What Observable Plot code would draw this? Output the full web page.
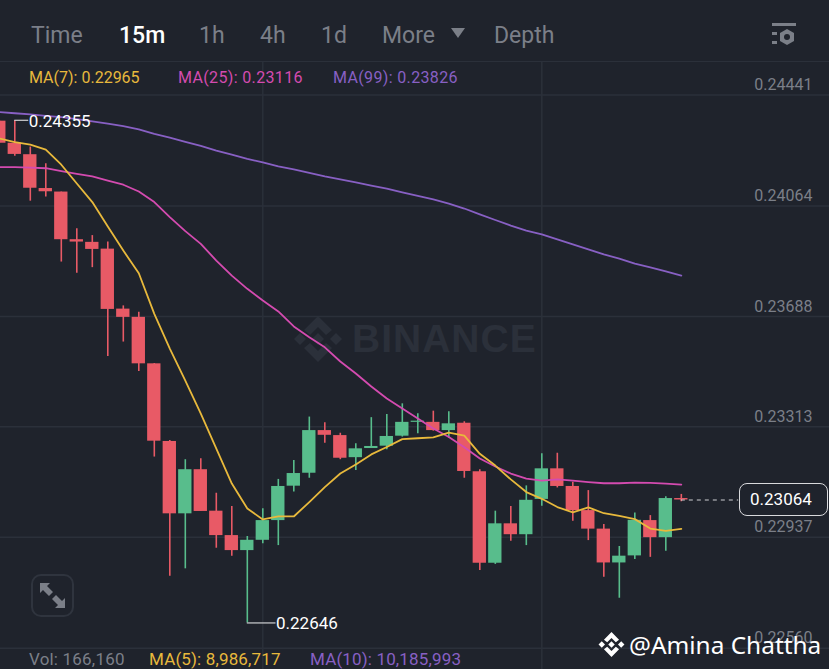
<!DOCTYPE html>
<html><head><meta charset="utf-8">
<script src="https://cdn.jsdelivr.net/npm/d3@7"></script>
<script src="https://cdn.jsdelivr.net/npm/@observablehq/plot@0.6"></script>
<style>
html,body{margin:0;padding:0;background:#1f232c;overflow:hidden}
#page{position:relative;width:829px;height:669px;overflow:hidden;font-family:Roboto,sans-serif;background:#1f232c}
#head{position:absolute;left:0;top:0;width:829px;height:61px;border-bottom:1px solid #2b303a}
#head span{position:absolute;top:21px;font-size:23px;line-height:30px;color:#7b7f88}
#chart{position:absolute;left:0;top:62px;z-index:2}
.row{position:absolute;font-size:16px;line-height:20px;white-space:nowrap;z-index:3}
#wm{position:absolute;left:352px;top:316px;font-size:39px;font-weight:700;line-height:46px;color:#2b303a;letter-spacing:1px;z-index:1;font-family:"Liberation Sans",sans-serif}
#last{position:absolute;left:739px;top:483px;width:77px;padding-left:10px;height:31px;border:1px solid #d8d9dc;border-radius:8px;background:#1f232c;color:#fff;font-size:17px;line-height:31px;z-index:3}
#exp{position:absolute;left:31px;top:574px;width:39px;height:39px;border:2px solid #2f343e;border-radius:10px;z-index:3}
#credit{position:absolute;left:629px;top:629px;font-size:24.4px;line-height:32px;color:#fff;z-index:4;font-family:"Noto Sans",sans-serif;white-space:nowrap}
svg.ic{position:absolute}
</style></head><body>
<div id="page">
<div id="head">
<span style="left:31px">Time</span>
<span style="left:119px;color:#fff;font-weight:500">15m</span>
<span style="left:199px">1h</span>
<span style="left:260px">4h</span>
<span style="left:321px">1d</span>
<span style="left:382px">More</span>
<svg class="ic" style="left:451px;top:28px" width="14" height="11"><path d="M0 0H14L7 10Z" fill="#7b7f88"/></svg>
<span style="left:494px">Depth</span>
<svg class="ic" style="left:771px;top:22px" width="26" height="26"><g fill="#7b7f88"><rect x="1" y="1" width="24" height="3"/><rect x="1" y="10" width="5" height="3"/><rect x="1" y="19" width="5" height="3"/><path d="M16 7l7 4v8l-7 4-7-4v-8z"/></g><circle cx="16" cy="15" r="3" fill="#1f232c"/></svg>
</div>
<svg class="ic" style="left:293px;top:315px;z-index:1" width="50" height="48" viewBox="0 0 50 48"><g fill="#2b303a"><path d="M25 1l14 14-6 5-8-8-8 8-6-5z"/><path d="M25 47l14-14-6-5-8 8-8-8-6 5z"/><path d="M25 18l6 6-6 6-6-6z"/><path d="M7 18l6 6-6 6-6-6z"/><path d="M43 18l6 6-6 6-6-6z"/></g></svg>
<div id="wm">BINANCE</div>
<div class="row" style="left:29px;top:68px;color:#e8b93c">MA(7): 0.22965</div>
<div class="row" style="left:178px;top:68px;color:#d44bb0;letter-spacing:.35px">MA(25): 0.23116</div>
<div class="row" style="left:333px;top:68px;color:#8860c4;letter-spacing:.35px">MA(99): 0.23826</div>
<div class="row" style="left:29px;top:649px;color:#7b7f88;font-size:17px;letter-spacing:.2px">Vol: 166,160</div>
<div class="row" style="left:149px;top:649px;color:#e8b93c;font-size:17px;letter-spacing:.15px">MA(5): 8,986,717</div>
<div class="row" style="left:310px;top:649px;color:#8860c4;font-size:17px;letter-spacing:.15px">MA(10): 10,185,993</div>
<div id="last">0.23064</div>
<div id="exp"><svg class="ic" style="left:6px;top:6px" width="27" height="27" viewBox="0 0 27 27"><g fill="#7b7f88"><path d="M1 1H11L8 4L14 10L10 14L4 8L1 11Z"/><path d="M26 26H16L19 23L13 17L17 13L23 19L26 16Z"/></g></svg></div>
<svg class="ic" style="left:598px;top:631px;z-index:4" width="27" height="27" viewBox="0 0 50 48"><g fill="#fff"><path d="M25 1l14 14-6 5-8-8-8 8-6-5z"/><path d="M25 47l14-14-6-5-8 8-8-8-6 5z"/><path d="M25 18l6 6-6 6-6-6z"/><path d="M7 18l6 6-6 6-6-6z"/><path d="M43 18l6 6-6 6-6-6z"/></g></svg>
<div id="credit">@Amina Chattha</div>
<div id="chart"></div>
</div>
<script>
const priceTicks = [0.24441, 0.24064, 0.23688, 0.23313, 0.22937, 0.22560];
const timeGrid = [17, 35];
const open = [.24352,.24277,.24238,.24123,.24111,.23949,.23940,.23917,.23713,.23685,.23527,.23263,.23017,.23167,.23026,.22943,.22892,.22927,.22994,.23111,.23155,.23300,.23283,.23208,.23239,.23247,.23281,.23328,.23328,.23300,.23325,.23160,.22849,.22983,.22946,.23066,.23170,.23110,.23028,.22965,.22850,.22874,.22994,.22936,.23069];
const close = [.24277,.24239,.24124,.24112,.23949,.23941,.23916,.23712,.23685,.23527,.23264,.23017,.23167,.23025,.22943,.22892,.22927,.22994,.23110,.23154,.23300,.23284,.23206,.23238,.23246,.23280,.23328,.23332,.23300,.23323,.23161,.22849,.22983,.22946,.23063,.23170,.23110,.23028,.22965,.22850,.22873,.22995,.22936,.23069,.23064];
const high = [.24354,.24354,.24264,.24207,.24111,.23986,.23963,.23941,.23724,.23702,.23528,.23266,.23201,.23204,.23087,.23042,.22940,.23034,.23134,.23198,.23346,.23327,.23291,.23255,.23344,.23355,.23391,.23357,.23366,.23364,.23330,.23167,.23026,.23042,.23112,.23221,.23223,.23124,.23096,.22981,.22906,.23020,.23011,.23075,.23083];
const low = [.24276,.24233,.24080,.24094,.23873,.23835,.23854,.23552,.23601,.23501,.23210,.22805,.22830,.23025,.22900,.22873,.22646,.22915,.22909,.23091,.23138,.23257,.23201,.23164,.23239,.23235,.23278,.23289,.23298,.23274,.23138,.22824,.22845,.22924,.22909,.23043,.23105,.22992,.22926,.22801,.22730,.22862,.22869,.22890,.23058];
const ma7 = [.24293,.24281,.24272,.24255,.24204,.24140,.24077,.23994,.23912,.23835,.23697,.23579,.23470,.23358,.23239,.23120,.23035,.22998,.23008,.23008,.23057,.23108,.23154,.23185,.23219,.23244,.23271,.23274,.23277,.23293,.23283,.23221,.23181,.23134,.23091,.23068,.23040,.23022,.23039,.23019,.23010,.22999,.22967,.22959,.22966];
const ma25 = [.24196,.24196,.24194,.24192,.24182,.24173,.24164,.24150,.24136,.24113,.24077,.24026,.23978,.23935,.23878,.23827,.23782,.23742,.23705,.23654,.23617,.23583,.23535,.23494,.23450,.23409,.23375,.23341,.23307,.23278,.23243,.23205,.23178,.23154,.23137,.23130,.23134,.23130,.23125,.23121,.23121,.23123,.23122,.23120,.23116];
const ma99 = [.24383,.24379,.24375,.24370,.24366,.24359,.24351,.24344,.24335,.24324,.24309,.24296,.24282,.24268,.24252,.24238,.24224,.24212,.24198,.24188,.24176,.24164,.24154,.24144,.24133,.24123,.24110,.24098,.24086,.24072,.24055,.24035,.24016,.23997,.23980,.23967,.23950,.23933,.23916,.23899,.23885,.23868,.23855,.23841,.23827];
const lastPrice = 0.23064, peak = 0.24355, trough = 0.22646;
const peakIndex = 1, troughIndex = 16, lastIndex = 44;

const UP = "#58bd8c", DOWN = "#e85a66", GRID = "#2b303a";
const candles = open.map((o, i) => ({i, open:o, close:close[i], high:high[i], low:low[i], color: close[i] >= o ? UP : DOWN}));
const maLine = (vals, stroke) => Plot.line(vals.map((v, i) => ({i, v})), {x:"i", y:"v", stroke, strokeWidth:1.8, curve:"linear"});

const chart = Plot.plot({
  width:829, height:607, margin:0,
  style:{background:"transparent", fontFamily:"Roboto,sans-serif"},
  x:{type:"linear", domain:[0.0774, 53.56], axis:null},
  y:{type:"linear", domain:[0.245515, 0.224877], range:[0,607], axis:null},
  marks:[
    Plot.ruleY(priceTicks, {stroke:GRID, strokeWidth:1.5}),
    Plot.ruleX(timeGrid, {stroke:GRID, strokeWidth:1.5}),
    Plot.axisY(priceTicks, {anchor:"right", tickSize:0, tickFormat:d3.format(".5f"), textAnchor:"end", dx:-26, dy:-10, fontSize:16, fill:"#7b7f88", label:null}),
    Plot.ruleX(candles, {x:"i", y1:"low", y2:"high", stroke:"color", strokeWidth:1.6}),
    Plot.rect(candles, {x1:d=>d.i-0.43, x2:d=>d.i+0.43, y1:"open", y2:"close", fill:"color"}),
    maLine(ma99, "#8860c4"),
    maLine(ma25, "#d44bb0"),
    maLine(ma7, "#e8b93c"),
    Plot.ruleY([peak], {x1:peakIndex, x2:peakIndex+0.9, stroke:"#cfd0d3", strokeWidth:1.2}),
    Plot.text([peak], {x:peakIndex+0.9, y:d=>d, text:d=>d.toFixed(5), textAnchor:"start", fill:"#fff", fontSize:17, dy:1}),
    Plot.ruleY([trough], {x1:troughIndex, x2:troughIndex+1.85, stroke:"#cfd0d3", strokeWidth:1.2}),
    Plot.text([trough], {x:troughIndex+1.85, y:d=>d, text:d=>d.toFixed(5), textAnchor:"start", fill:"#fff", fontSize:17, dy:1}),
    Plot.ruleY([lastPrice], {x1:lastIndex, x2:lastIndex+3.7, stroke:"#cfd0d3", strokeWidth:1, strokeDasharray:"4,4"})
  ]
});
document.getElementById("chart").appendChild(chart);
</script>
</body></html>
